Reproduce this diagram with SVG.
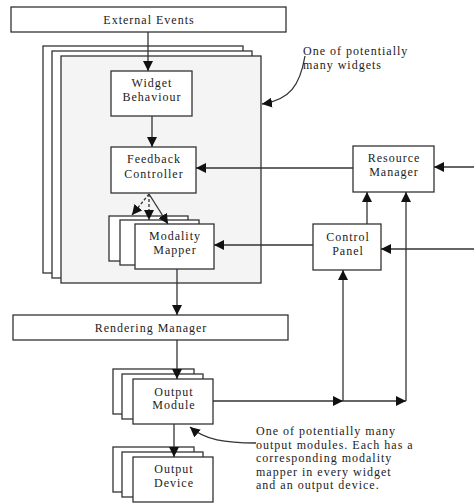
<svg xmlns="http://www.w3.org/2000/svg" width="474" height="504" viewBox="0 0 474 504">
<style>
.box{fill:#fff;stroke:#333;stroke-width:1.3}
.wfront{fill:#f4f4f4;stroke:#333;stroke-width:1.3}
.t{font-family:"Liberation Serif","Times New Roman",serif;font-size:12px;fill:#222;letter-spacing:1px;text-anchor:middle}
.a{font-family:"Liberation Serif","Times New Roman",serif;font-size:12px;fill:#222;letter-spacing:1px}
.c{fill:none;stroke:#333;stroke-width:1.3}
.d{stroke-dasharray:3,2}
</style>
<defs>
<marker id="ah" markerUnits="userSpaceOnUse" markerWidth="10" markerHeight="10" refX="10" refY="5" orient="auto" viewBox="0 0 10 10">
<path d="M0,0 L10,5 L0,10 z" fill="#111"/>
</marker>
</defs>
<rect width="474" height="504" fill="#fff"/>
<g id="external-events"><rect class="box" x="11" y="7" width="275" height="25"/><text class="t" x="149" y="24">External Events</text></g>
<g id="widget-stack">
<rect class="box" x="43" y="46" width="200" height="227"/>
<rect class="box" x="52" y="51" width="200" height="227"/>
<rect class="wfront" x="61" y="56" width="200" height="227"/>
</g>
<g id="widget-behaviour"><rect class="box" x="111" y="71" width="81" height="45"/><text class="t" x="152" y="87">Widget</text><text class="t" x="152" y="101">Behaviour</text></g>
<g id="feedback-controller"><rect class="box" x="111" y="147" width="85" height="46"/><text class="t" x="154" y="163">Feedback</text><text class="t" x="154" y="178">Controller</text></g>
<g id="modality-mapper">
<rect class="box" x="109" y="216" width="79" height="45"/>
<rect class="box" x="120" y="220" width="79" height="45"/>
<rect class="box" x="135" y="224" width="79" height="45"/>
<text class="t" x="175" y="240">Modality</text><text class="t" x="175" y="254">Mapper</text>
</g>
<g id="rendering-manager"><rect class="box" x="13" y="315" width="275" height="25"/><text class="t" x="151" y="332">Rendering Manager</text></g>
<g id="output-module">
<rect class="box" x="113" y="369" width="81" height="45"/>
<rect class="box" x="122" y="374" width="81" height="45"/>
<rect class="box" x="133" y="379" width="80" height="45"/>
<text class="t" x="174" y="396">Output</text><text class="t" x="174" y="409">Module</text>
</g>
<g id="output-device">
<rect class="box" x="113" y="447" width="81" height="45"/>
<rect class="box" x="122" y="452" width="81" height="45"/>
<rect class="box" x="133" y="457" width="80" height="45"/>
<text class="t" x="174" y="473">Output</text><text class="t" x="174" y="487">Device</text>
</g>
<g id="resource-manager"><rect class="box" x="353" y="146" width="81" height="46"/><text class="t" x="394" y="162">Resource</text><text class="t" x="394" y="176">Manager</text></g>
<g id="control-panel"><rect class="box" x="313" y="224" width="68" height="46"/><text class="t" x="348" y="241">Control</text><text class="t" x="348" y="255">Panel</text></g>
<g id="connectors">
<path class="c" d="M148,32 V71" marker-end="url(#ah)"/>
<path class="c" d="M152,116 V147" marker-end="url(#ah)"/>
<path class="c d" d="M149,194 L132,215" marker-end="url(#ah)"/>
<path class="c d" d="M149,194 V220" marker-end="url(#ah)"/>
<path class="c" d="M149,194 L168,224" marker-end="url(#ah)"/>
<path class="c" d="M177,269 V315" marker-end="url(#ah)"/>
<path class="c" d="M177,340 V379" marker-end="url(#ah)"/>
<path class="c" d="M174,424 V457" marker-end="url(#ah)"/>
<path class="c" d="M353,168 H196" marker-end="url(#ah)"/>
<path class="c" d="M474,167 H434" marker-end="url(#ah)"/>
<path class="c" d="M313,245 H214" marker-end="url(#ah)"/>
<path class="c" d="M474,249 H381" marker-end="url(#ah)"/>
<path class="c" d="M367,224 V192" marker-end="url(#ah)"/>
<path class="c" d="M213,401 H343" marker-end="url(#ah)"/>
<path class="c" d="M343,401 H406" marker-end="url(#ah)"/>
<path class="c" d="M343,401 V270" marker-end="url(#ah)"/>
<path class="c" d="M406,401 V192" marker-end="url(#ah)"/>
<path class="c" d="M305,56 C300,85 290,100 262,104" marker-end="url(#ah)"/>
<path class="c" d="M256,443 C225,443 205,440 190,427" marker-end="url(#ah)"/>
</g>
<g id="annotations">
<text class="a" x="303" y="55">One of potentially</text>
<text class="a" x="303" y="69">many widgets</text>
<text class="a" x="256" y="435">One of potentially many</text>
<text class="a" x="256" y="449">output modules. Each has a</text>
<text class="a" x="256" y="462">corresponding modality</text>
<text class="a" x="256" y="476">mapper in every widget</text>
<text class="a" x="256" y="489">and an output device.</text>
</g>
</svg>
